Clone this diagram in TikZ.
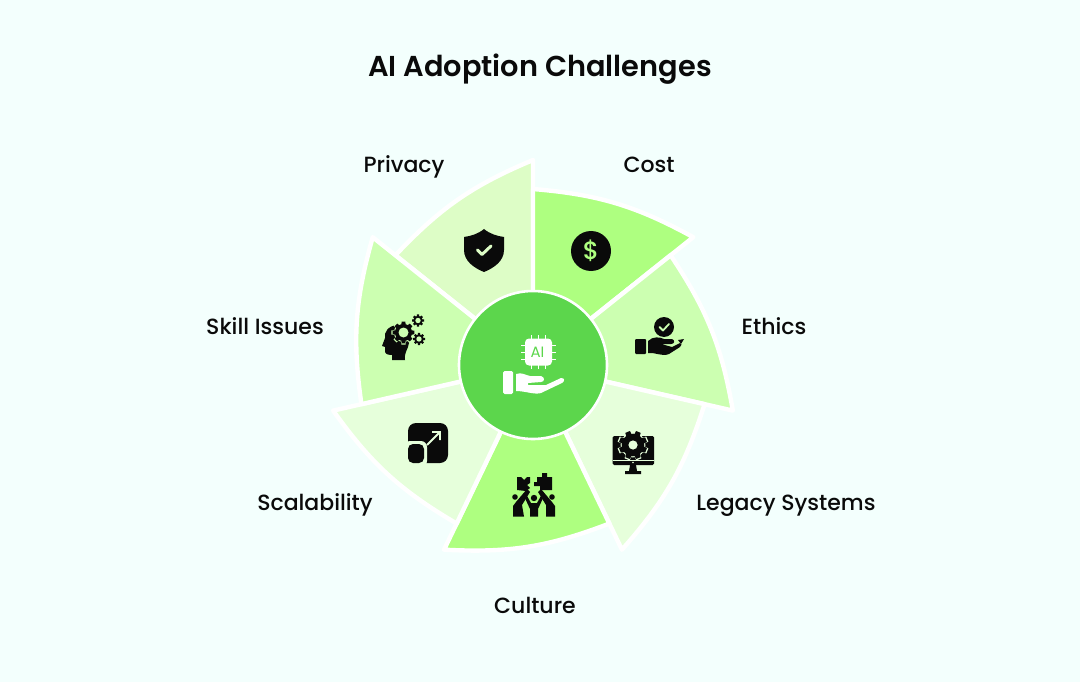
\documentclass[tikz,border=0pt]{standalone}
\usepackage{fontspec}
\setmainfont{Poppins}
\newfontfamily\headfont{Poppins SemiBold}
\newfontfamily\labelfont{Poppins Medium}
\usetikzlibrary{positioning}

\definecolor{pagebg}{HTML}{F3FFFD}
\definecolor{hubgreen}{HTML}{5CD64C}
\definecolor{limeA}{HTML}{AEFF80}
\definecolor{limeB}{HTML}{CCFFB1}
\definecolor{limeC}{HTML}{DDFDC6}
\definecolor{limeD}{HTML}{E6FFDB}
\definecolor{inkblack}{HTML}{0A0A0A}

\begin{document}
\begin{tikzpicture}[x=1pt,y=-1pt,
wedge/.style={draw=white, line width=4.4pt, line join=round},
hub/.style={circle, draw=white, line width=2.6pt, fill=hubgreen, minimum size=148pt, inner sep=0pt},
tag/.style={font=\labelfont\fontsize{22}{24}\selectfont, text=inkblack, anchor=base, inner sep=0pt},
cog/.pic={
\fill[#1] (0,0) circle (1);
\foreach \t in {0,45,...,315} \fill[#1] (\t-16:0.9) -- (\t-10:1.27) -- (\t+10:1.27) -- (\t+16:0.9) -- cycle;
},
]
\useasboundingbox[fill=pagebg] (0,0) rectangle (1080,682);

\coordinate (c) at (533,365);

\foreach \name/\ang/\col in {
privacy/-141.43/limeC,
cost/-90/limeA,
ethics/-38.57/limeB,
legacy/12.86/limeD,
culture/64.29/limeA,
scale/115.71/limeD,
skill/167.14/limeB}
{
\coordinate (\name s) at ([shift={(c)}] \ang:176);
\coordinate (\name e) at ([shift={(c)}] \ang+51.43:205);
\draw[wedge, fill=\col] (c) -- (\name s) to[bend left=12] (\name e) -- cycle;
}

\node[hub] (aihub) at (c) {};

\node[font=\headfont\fontsize{28.8}{30}\selectfont, text=inkblack, anchor=base, inner sep=0pt] (title) at (540,77) {AI Adoption Challenges};
\node[tag] (privacylab) at (404,173) {Privacy};
\node[tag] (costlab) at (649,173) {Cost};
\node[tag] (ethicslab) at (774,334) {Ethics};
\node[tag] (legacylab) at (786,510) {Legacy Systems};
\node[tag] (culturelab) at (535,613) {Culture};
\node[tag] (scalelab) at (315,510) {Scalability};
\node[tag] (skilllab) at (265,334) {Skill Issues};

% shield
\fill[inkblack] (484,229) .. controls (490,234) and (497,236) .. (504,237) -- (504,250) .. controls (504,261) and (494,268) .. (484,272) .. controls (474,268) and (464,261) .. (464,250) -- (464,237) .. controls (471,236) and (478,234) .. (484,229) -- cycle;
\draw[limeC, line width=3pt, line cap=round, line join=round] (477.5,250) -- (482,254.5) -- (491,246);

% dollar
\node[circle, fill=inkblack, minimum size=40pt, inner sep=0pt, text=limeA, font=\labelfont\fontsize{25}{25}\selectfont] (dollar) at (591,251) {\$};

% ethics hand
\fill[inkblack, rounded corners=1pt] (635,339) rectangle (646,354);
\fill[inkblack] (664,327) circle (10);
\draw[limeB, line width=1.8pt, line cap=round, line join=round] (659.5,327) -- (663,330.5) -- (669,324);
\fill[inkblack] (648,341) .. controls (653,336) and (660,337) .. (664,339) -- (672,339) .. controls (675,340) and (675,344) .. (671,344) -- (661,344) -- (672,347) -- (680,343) .. controls (682,343) and (682,346) .. (680,347) -- (669,354) .. controls (662,357) and (655,352) .. (648,353) -- cycle;
\fill[inkblack] (678,340) -- (684,339) -- (681,344) -- cycle;

% monitor
\fill[inkblack, rounded corners=1.5pt] (612.5,436) rectangle (654,465);
\fill[inkblack] (630,465) -- (636,465) -- (637,471) -- (641,471) -- (641,474) -- (625,474) -- (625,471) -- (629,471) -- cycle;
\draw[limeD, line width=1pt] (612.5,460) -- (654,460);
\fill[limeD] (633,462.5) circle (0.9);
\pic[scale=12.4, rotate=22.5] at (633,445) {cog=limeD};
\pic[scale=11.3, rotate=22.5] at (633,445) {cog=inkblack};
\fill[limeD] (633,445) circle (4.6);

% team with puzzle
\fill[inkblack] (517,477) -- (521,477) -- (524,480) -- (527,477) -- (530,477) -- (530,483) -- (527,485) -- (530,488) -- (526,491) -- (517,490) -- cycle;
\fill[inkblack] (537,477) -- (542,477) -- (542,473) -- (547,473) -- (547,477) -- (552,477) -- (552,490) -- (540,490) -- (540,486) -- (534,486) -- (534,482) -- (537,482) -- cycle;
\fill[inkblack] (515,497) circle (2.8);
\fill[inkblack] (552,497) circle (2.8);
\fill[inkblack] (534,498) circle (3.2);
\fill[inkblack] (513,516.5) -- (513,506) -- (516,502) -- (527,489) -- (530,492) -- (522,505) -- (524,516.5) -- cycle;
\fill[inkblack] (555,516.5) -- (555,506) -- (552,502) -- (541,489) -- (538,492) -- (546,505) -- (546,516.5) -- cycle;
\fill[inkblack] (530,516.5) -- (530,509) -- (524,496) -- (526.5,495) -- (531,503) -- (537,503) -- (541.5,495) -- (544,496) -- (538,509) -- (538,516.5) -- cycle;

% scale
\fill[inkblack, rounded corners=8pt] (408,423) rectangle (448,463);
\fill[limeD, rounded corners=6pt] (404,441) rectangle (427,467);
\fill[inkblack, rounded corners=5pt] (408,444) rectangle (424,463);
\draw[limeD, line width=1.8pt] (427,445) -- (440,432) (432,432) -- (440,432) -- (440,440);

% head with gears
\fill[inkblack] (397,325) .. controls (388,326) and (384,332) .. (385,338) -- (382,346) -- (385,347) -- (385,352) .. controls (386,355) and (390,355) .. (392,355) -- (392,360) -- (405,360) .. controls (404,352) and (408,350) .. (409,343) -- cycle;
\pic[scale=9.6] at (403.5,332.5) {cog=limeB};
\pic[scale=8.6] at (403.5,332.5) {cog=inkblack};
\fill[limeB] (403.5,332.5) circle (5);
\pic[scale=4.8] at (418,320.5) {cog=inkblack};
\fill[limeB] (418,320.5) circle (2.7);
\pic[scale=4.8] at (419,339) {cog=inkblack};
\fill[limeB] (419,339) circle (2.7);

% ai chip and hand
\foreach \d in {-7,0,7} {
\draw[white, line width=1pt] (538.5+\d,335) -- (538.5+\d,369);
\draw[white, line width=1pt] (521,352+\d) -- (556,352+\d);
}
\fill[white, rounded corners=4pt] (525,338.5) rectangle (552,365.5);
\node[text=hubgreen, font=\fontsize{15}{15}\selectfont, inner sep=0pt] (chip) at (537.5,352.5) {AI};
\fill[white, rounded corners=1.5pt] (503,371) rectangle (513,394);
\fill[white] (516,374) .. controls (522,372) and (525,375) .. (530,376) -- (541,376) .. controls (545,377) and (545,382) .. (541,382) -- (528,383) -- (528,385) -- (546,385) -- (561,378) .. controls (565,378) and (565,381) .. (562,383) -- (541,393) .. controls (535,395) and (525,391) .. (516,391) -- cycle;
\end{tikzpicture}
\end{document}
